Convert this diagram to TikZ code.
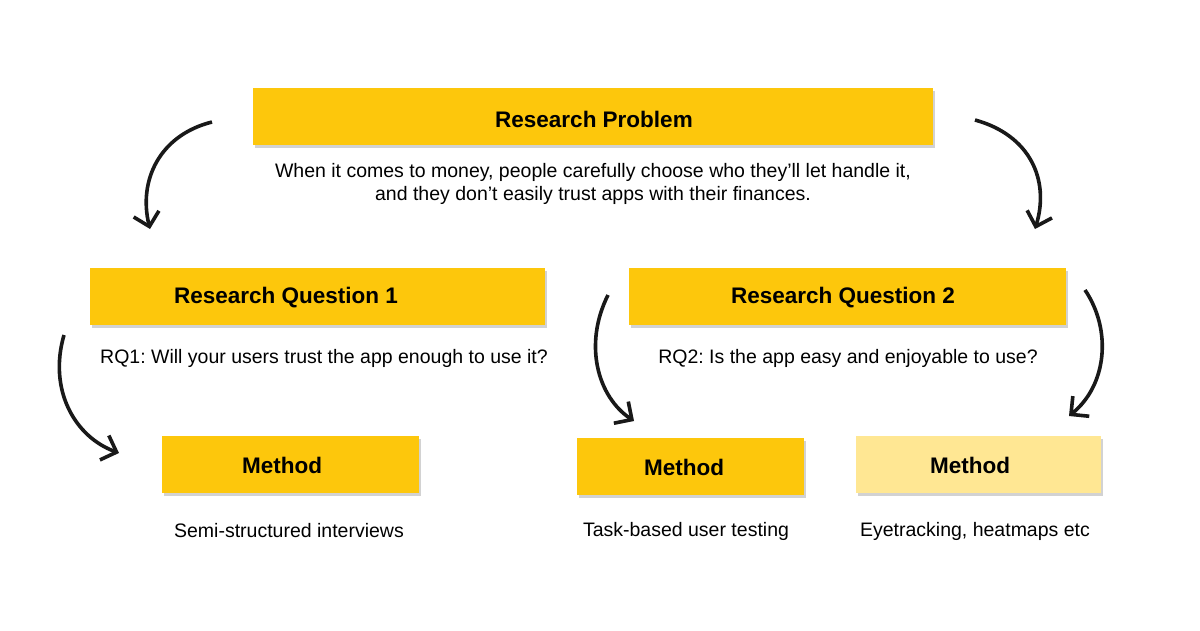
\documentclass[tikz,border=0pt]{standalone}
\usepackage{fontspec}
\setmainfont{Liberation Sans}
\usetikzlibrary{arrows.meta,shadows}
\definecolor{yel}{HTML}{FDC70C}
\definecolor{lightyel}{HTML}{FFE793}
\tikzset{
  box/.style={fill=yel, minimum height=57pt, inner sep=0pt,
    drop shadow={opacity=0.35, shadow xshift=1.5pt, shadow yshift=-3pt}},
  title/.style={font=\fontsize{22.5}{26}\selectfont\bfseries},
  txt/.style={font=\fontsize{19.5}{23}\selectfont, align=center},
  curve/.style={line width=3.6pt, draw=black!90, -{Straight Barb[length=13pt,width=26pt,line width=3.6pt]}}
}
\begin{document}
\frenchspacing
\begin{tikzpicture}[x=1pt,y=-1pt]
    \useasboundingbox[fill=white] (0,0) rectangle (1200,630);
    %% boxes
    \node[box, minimum width=680pt] (problem) at (593,116.5) {};
    \node[box, minimum width=455pt] (rqone) at (317.5,296) {};
    \node[box, minimum width=437pt] (rqtwo) at (847.5,296) {};
    \node[box, minimum width=257pt] (mone) at (290.5,464.5) {};
    \node[box, minimum width=227pt] (mtwo) at (690.5,466.5) {};
    \node[box, fill=lightyel, minimum width=245pt] (mthree) at (978.5,464.5) {};
    %% titles
    \node[title] (problemt) at (594,119) {Research Problem};
    \node[title] (rqonet) at (286,298) {Research Question 1};
    \node[title] (rqtwot) at (843,298) {Research Question 2};
    \node[title] (monet) at (282,465) {Method};
    \node[title] (mtwot) at (684,467) {Method};
    \node[title] (mthreet) at (970,465) {Method};
    %% texts
    \node[txt] (problemd) at (593,184) {When it comes to money, people carefully choose who they’ll let handle it,\\and they don’t easily trust apps with their finances.};
    \node[txt] (rqoned) at (324,358) {RQ1: Will your users trust the app enough to use it?};
    \node[txt] (rqtwod) at (848,358) {RQ2: Is the app easy and enjoyable to use?};
    \node[txt] (moned) at (289,531) {Semi-structured interviews};
    \node[txt] (mtwod) at (686,531) {Task-based user testing};
    \node[txt] (mthreed) at (975,531) {Eyetracking, heatmaps etc};
    %% curved arrows
    \coordinate (a1) at (212,122); \coordinate (b1) at (150,229);
    \coordinate (a2) at (975,120); \coordinate (b2) at (1035,229);
    \coordinate (a3) at (64,335);  \coordinate (b3) at (119,453);
    \coordinate (a4) at (608,295); \coordinate (b4) at (634,421);
    \coordinate (a5) at (1085,290); \coordinate (b5) at (1069,416);
    \draw[curve] (a1) .. controls (160,135) and (138,180) .. (b1);
    \draw[curve] (a2) .. controls (1030,135) and (1050,180) .. (b2);
    \draw[curve] (a3) .. controls (48,390) and (75,437) .. (b3);
    \draw[curve] (a4) .. controls (583,345) and (598,397) .. (b4);
    \draw[curve] (a5) .. controls (1112,330) and (1107,385) .. (b5);
\end{tikzpicture}
\end{document}
